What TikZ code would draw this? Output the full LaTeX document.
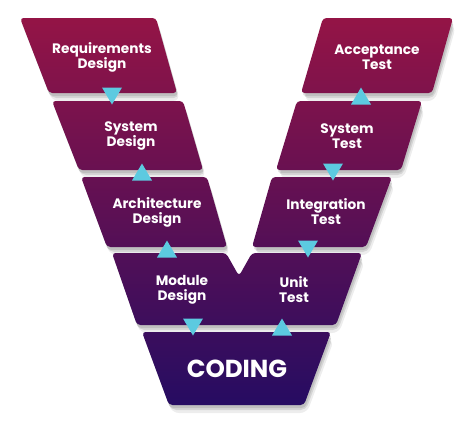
\documentclass[tikz,border=0pt]{standalone}
\usepackage{fontspec}
\setmainfont{Poppins}
\usepackage{xcolor}

\definecolor{vtop}{RGB}{148,20,70}
\definecolor{vbot}{RGB}{38,12,98}
\definecolor{tricyan}{RGB}{92,202,224}

\tikzset{
  stage/.style={text=white,align=center,font=\bfseries\fontsize{7.8}{8.6}\selectfont},
  coding/.style={text=white,font=\bfseries\fontsize{14}{16}\selectfont},
  tri/.style={fill=tricyan},
}

% all blocks of the V as one path
\newcommand{\vblocks}{%
  (20,18) -- (156,18) -- (177,93) -- (49,93) -- cycle
  (52,101) -- (183,101) -- (203,170) -- (79,170) -- cycle
  (81,177) -- (207,177) -- (227,247) -- (107,247) -- cycle
  (323,18) -- (453,18) -- (432,93) -- (301,93) -- cycle
  (297,101) -- (422,101) -- (401,170) -- (276,170) -- cycle
  (272,177) -- (392,177) -- (366,247) -- (252,247) -- cycle
  (112,253) -- (226,253) -- (239,276) -- (252,253) -- (362,253) -- (336,325) -- (137,325) -- cycle
  (142,332) -- (331,332) -- (304,405) -- (169,405) -- cycle}

\begin{document}
\begin{tikzpicture}[x=0.02cm,y=-0.02cm]
    \useasboundingbox (0,0) rectangle (474,424);

    % Shadow
    \fill[black,opacity=0.07,rounded corners=4pt,shift={(3,8)}] \vblocks;
    \fill[black,opacity=0.10,rounded corners=3pt,shift={(2,5)}] \vblocks;
    \fill[black,opacity=0.10,rounded corners=2pt,shift={(1,3)}] \vblocks;

    % Blocks
    \shade[top color=vtop,bottom color=vbot,rounded corners=2pt] \vblocks;

    % Left side
    \node[stage] (req) at (102,57) {Requirements\\Design};
    \node[stage] (sysd) at (131,136) {System\\Design};
    \node[stage] (arch) at (157,212) {Architecture\\Design};
    \node[stage] (mod) at (182,290) {Module\\Design};

    % Bottom
    \node[coding] (cod) at (237,369) {CODING};

    % Right side
    \node[stage] (unit) at (294,290) {Unit\\Test};
    \node[stage] (integ) at (326,212) {Integration\\Test};
    \node[stage] (syst) at (347,136) {System\\Test};
    \node[stage] (acc) at (377,57) {Acceptance\\Test};

    % Triangles between the blocks (1 = down, -1 = up)
    \foreach \x/\y/\d in {112/96/1, 142/172/-1, 167/249/-1, 193/327/1,
                          361/96/-1, 333/172/1, 308/249/1, 282/327/-1}
        \fill[tri] (\x-10,\y-8.5*\d) -- (\x+10,\y-8.5*\d) -- (\x,\y+8.5*\d) -- cycle;
\end{tikzpicture}
\end{document}
